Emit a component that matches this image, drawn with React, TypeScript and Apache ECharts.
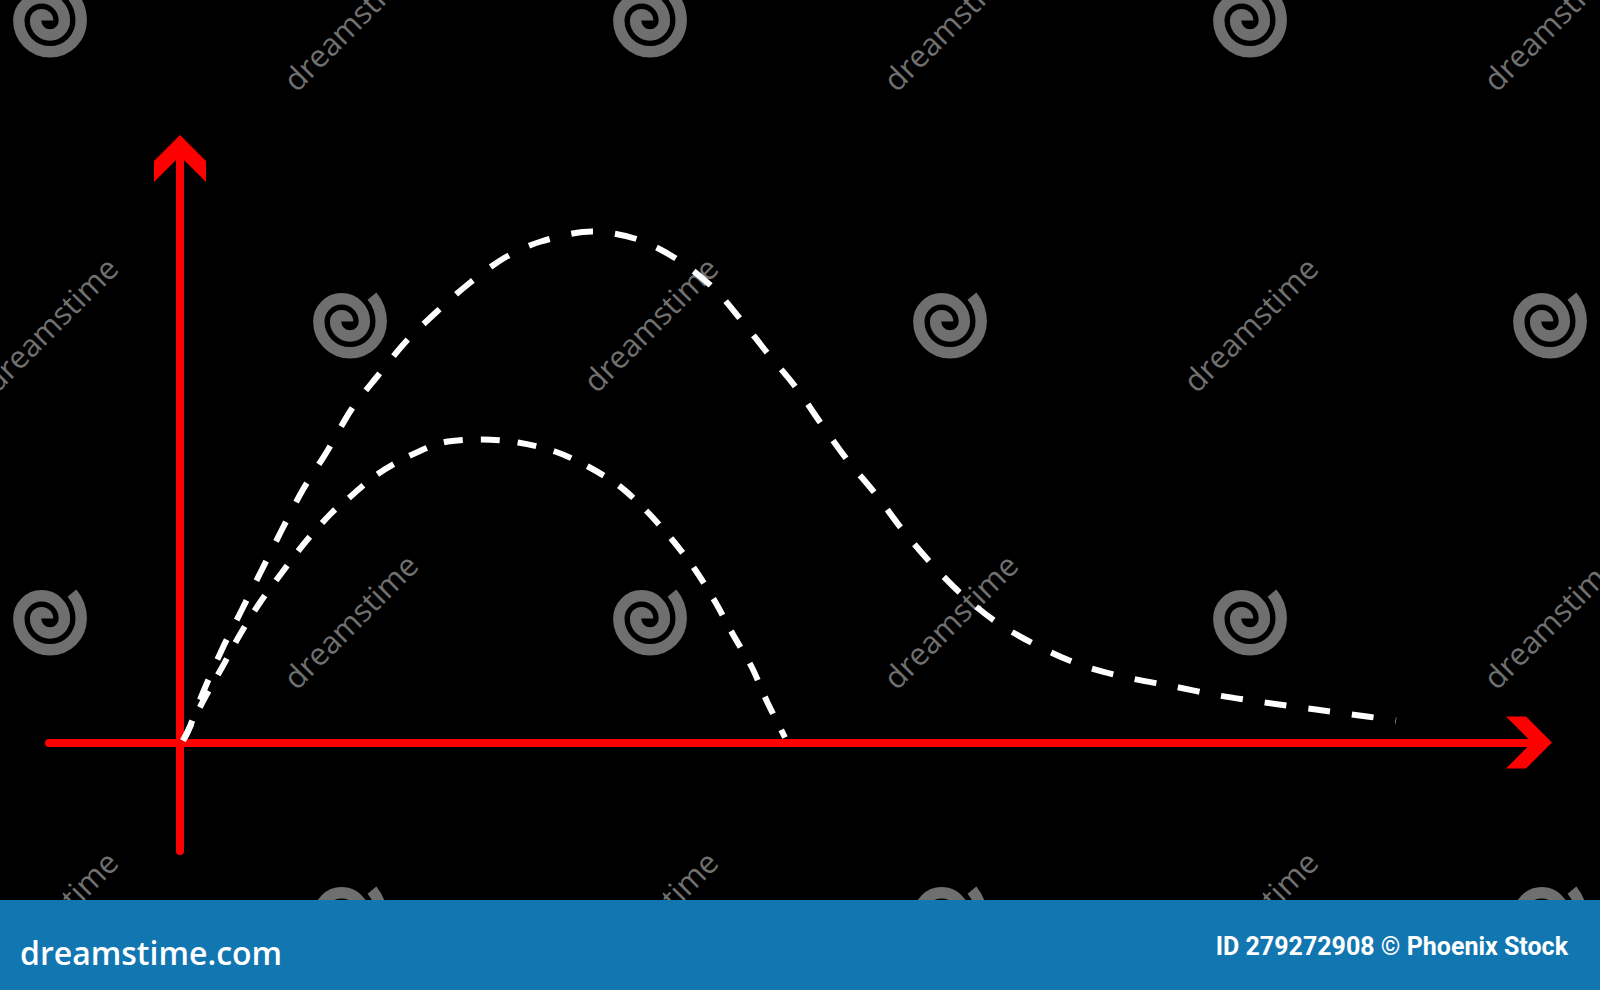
import React, { useEffect, useRef } from 'react';
import * as echarts from 'echarts';

// Curves: [x, y] in axis units (1 unit ≈ 100 px)
const bigCurve: [number, number][] = [
  [0.03, 0.02], [0.08, 0.11], [0.23, 0.5], [0.42, 0.93], [0.62, 1.33], [0.82, 1.73],
  [1.02, 2.13], [1.23, 2.53], [1.47, 2.91], [1.72, 3.34], [1.98, 3.67], [2.26, 4.01],
  [2.57, 4.31], [2.89, 4.59], [3.25, 4.85], [3.61, 5.01], [4.12, 5.11], [4.58, 5.03],
  [4.99, 4.82], [5.34, 4.54], [5.6, 4.24], [5.87, 3.9], [6.16, 3.55], [6.41, 3.19],
  [6.67, 2.83], [6.96, 2.48], [7.23, 2.12], [7.54, 1.76], [7.84, 1.46], [8.2, 1.18],
  [8.61, 0.95], [9.02, 0.77], [9.42, 0.66], [9.94, 0.56], [10.39, 0.47], [10.85, 0.4],
  [11.36, 0.33], [11.87, 0.26], [12.16, 0.22],
];

const smallCurve: [number, number][] = [
  [0.03, 0.02], [0.25, 0.45], [0.42, 0.75], [0.6, 1.08], [0.8, 1.4], [1.02, 1.7],
  [1.25, 2.0], [1.5, 2.28], [1.67, 2.43], [1.97, 2.68], [2.28, 2.86], [2.63, 3.0],
  [3.02, 3.03], [3.38, 3.0], [3.75, 2.91], [4.08, 2.76], [4.4, 2.56], [4.67, 2.31],
  [4.92, 2.03], [5.15, 1.73], [5.35, 1.41], [5.53, 1.08], [5.72, 0.75], [5.87, 0.41],
  [6.05, 0.05],
];

const X_MIN = -1.31;
const X_MAX = 13.56;
const Y_MIN = -1.085;
const Y_MAX = 5.925;

const footerLeft = 'dreamstime.com';
const footerRight = 'ID 279272908 © Phoenix Stock';
const watermarkText = 'dreamstime';

const SPIRAL_D =
  'M 5 0 A 5 5 0 0 0 -5 0 A 12 12 0 0 0 19 0 A 19 19 0 0 0 -19 0 A 26 26 0 0 0 33 0 A 33 33 0 0 0 25.3 -21.2';

let registered = false;
function ensureShapes() {
  if (registered) return;
  echarts.graphic.registerShape('spiral', echarts.graphic.extendPath(SPIRAL_D, {}) as any);
  registered = true;
}

export default function App() {
  const ref = useRef<HTMLDivElement>(null);

  useEffect(() => {
    document.body.style.margin = '0';
    document.body.style.background = '#000';
    ensureShapes();
    const chart = echarts.init(ref.current!, undefined, { renderer: 'svg' });

    const rowsY = [23, 324, 621, 918];
    const colsX = [50, 350, 650, 950, 1250, 1550];
    const marks: any[] = [];
    rowsY.forEach((y, ri) => {
      colsX.forEach((x, ci) => {
        const isSpiral = ri % 2 === 0 ? ci % 2 === 0 : ci % 2 === 1;
        if (isSpiral) {
          const s = 1.2;
          marks.push({
            type: 'spiral',
            x: x - 7 * s,
            y: y - 2 * s,
            scaleX: s,
            scaleY: s,
            z: -1,
            silent: true,
            style: { fill: 'none', stroke: '#6f6f6f', lineWidth: 9.5 },
          });
        } else {
          marks.push({
            type: 'text',
            x,
            y,
            rotation: Math.PI / 4,
            z: -1,
            silent: true,
            style: {
              text: watermarkText,
              fill: '#707070',
              fontSize: 31,
              fontFamily: 'Open Sans',
              align: 'center',
              verticalAlign: 'middle',
            },
          });
        }
      });
    });

    const red = '#ff0000';

    chart.setOption({
      animation: false,
      backgroundColor: '#000000',
      grid: { left: 49, right: 64, top: 150, bottom: 139, containLabel: false },
      xAxis: {
        type: 'value',
        min: X_MIN,
        max: X_MAX,
        axisLine: { show: true, onZero: true, lineStyle: { color: red, width: 8 } },
        axisTick: { show: false },
        axisLabel: { show: false },
        splitLine: { show: false },
      },
      yAxis: {
        type: 'value',
        min: Y_MIN,
        max: Y_MAX,
        axisLine: { show: true, onZero: true, lineStyle: { color: red, width: 8 } },
        axisTick: { show: false },
        axisLabel: { show: false },
        splitLine: { show: false },
      },
      series: [
        {
          type: 'line',
          data: bigCurve,
          showSymbol: false,
          smooth: 0.3,
          z: 5,
          lineStyle: { color: '#ffffff', width: 6, type: [22, 22], cap: 'butt' },
        },
        {
          type: 'line',
          data: smallCurve,
          showSymbol: false,
          smooth: 0.3,
          z: 5,
          lineStyle: { color: '#ffffff', width: 6, type: [19, 18], cap: 'butt' },
        },
      ],
      graphic: [
        ...marks,
        {
          type: 'polygon',
          z: 10,
          silent: true,
          shape: {
            points: [
              [180, 135], [206, 161], [206, 182], [180, 156], [154, 182], [154, 161],
            ],
          },
          style: { fill: red },
        },
        {
          type: 'polygon',
          z: 10,
          silent: true,
          shape: {
            points: [
              [1552, 742.5], [1526, 768.5], [1506, 768.5], [1532, 742.5], [1506, 716.5], [1526, 716.5],
            ],
          },
          style: { fill: red },
        },
        {
          type: 'rect',
          z: 100,
          silent: true,
          shape: { x: 0, y: 900, width: 1600, height: 90 },
          style: { fill: '#1276b0' },
        },
        {
          type: 'text',
          z: 101,
          silent: true,
          x: 20,
          y: 952,
          style: {
            text: footerLeft,
            fill: '#ffffff',
            fontSize: 32,
            fontWeight: 600,
            fontFamily: 'Open Sans',
            align: 'left',
            verticalAlign: 'middle',
          },
        },
        {
          type: 'text',
          z: 101,
          silent: true,
          x: 1568,
          y: 946,
          style: {
            text: footerRight,
            fill: '#ffffff',
            fontSize: 25,
            fontWeight: 700,
            fontFamily: 'Roboto',
            align: 'right',
            verticalAlign: 'middle',
          },
        },
      ],
    });

    return () => chart.dispose();
  }, []);

  return (
    <div
      ref={ref}
      style={{ position: 'absolute', left: 0, top: 0, width: 1600, height: 990 }}
    />
  );
}
